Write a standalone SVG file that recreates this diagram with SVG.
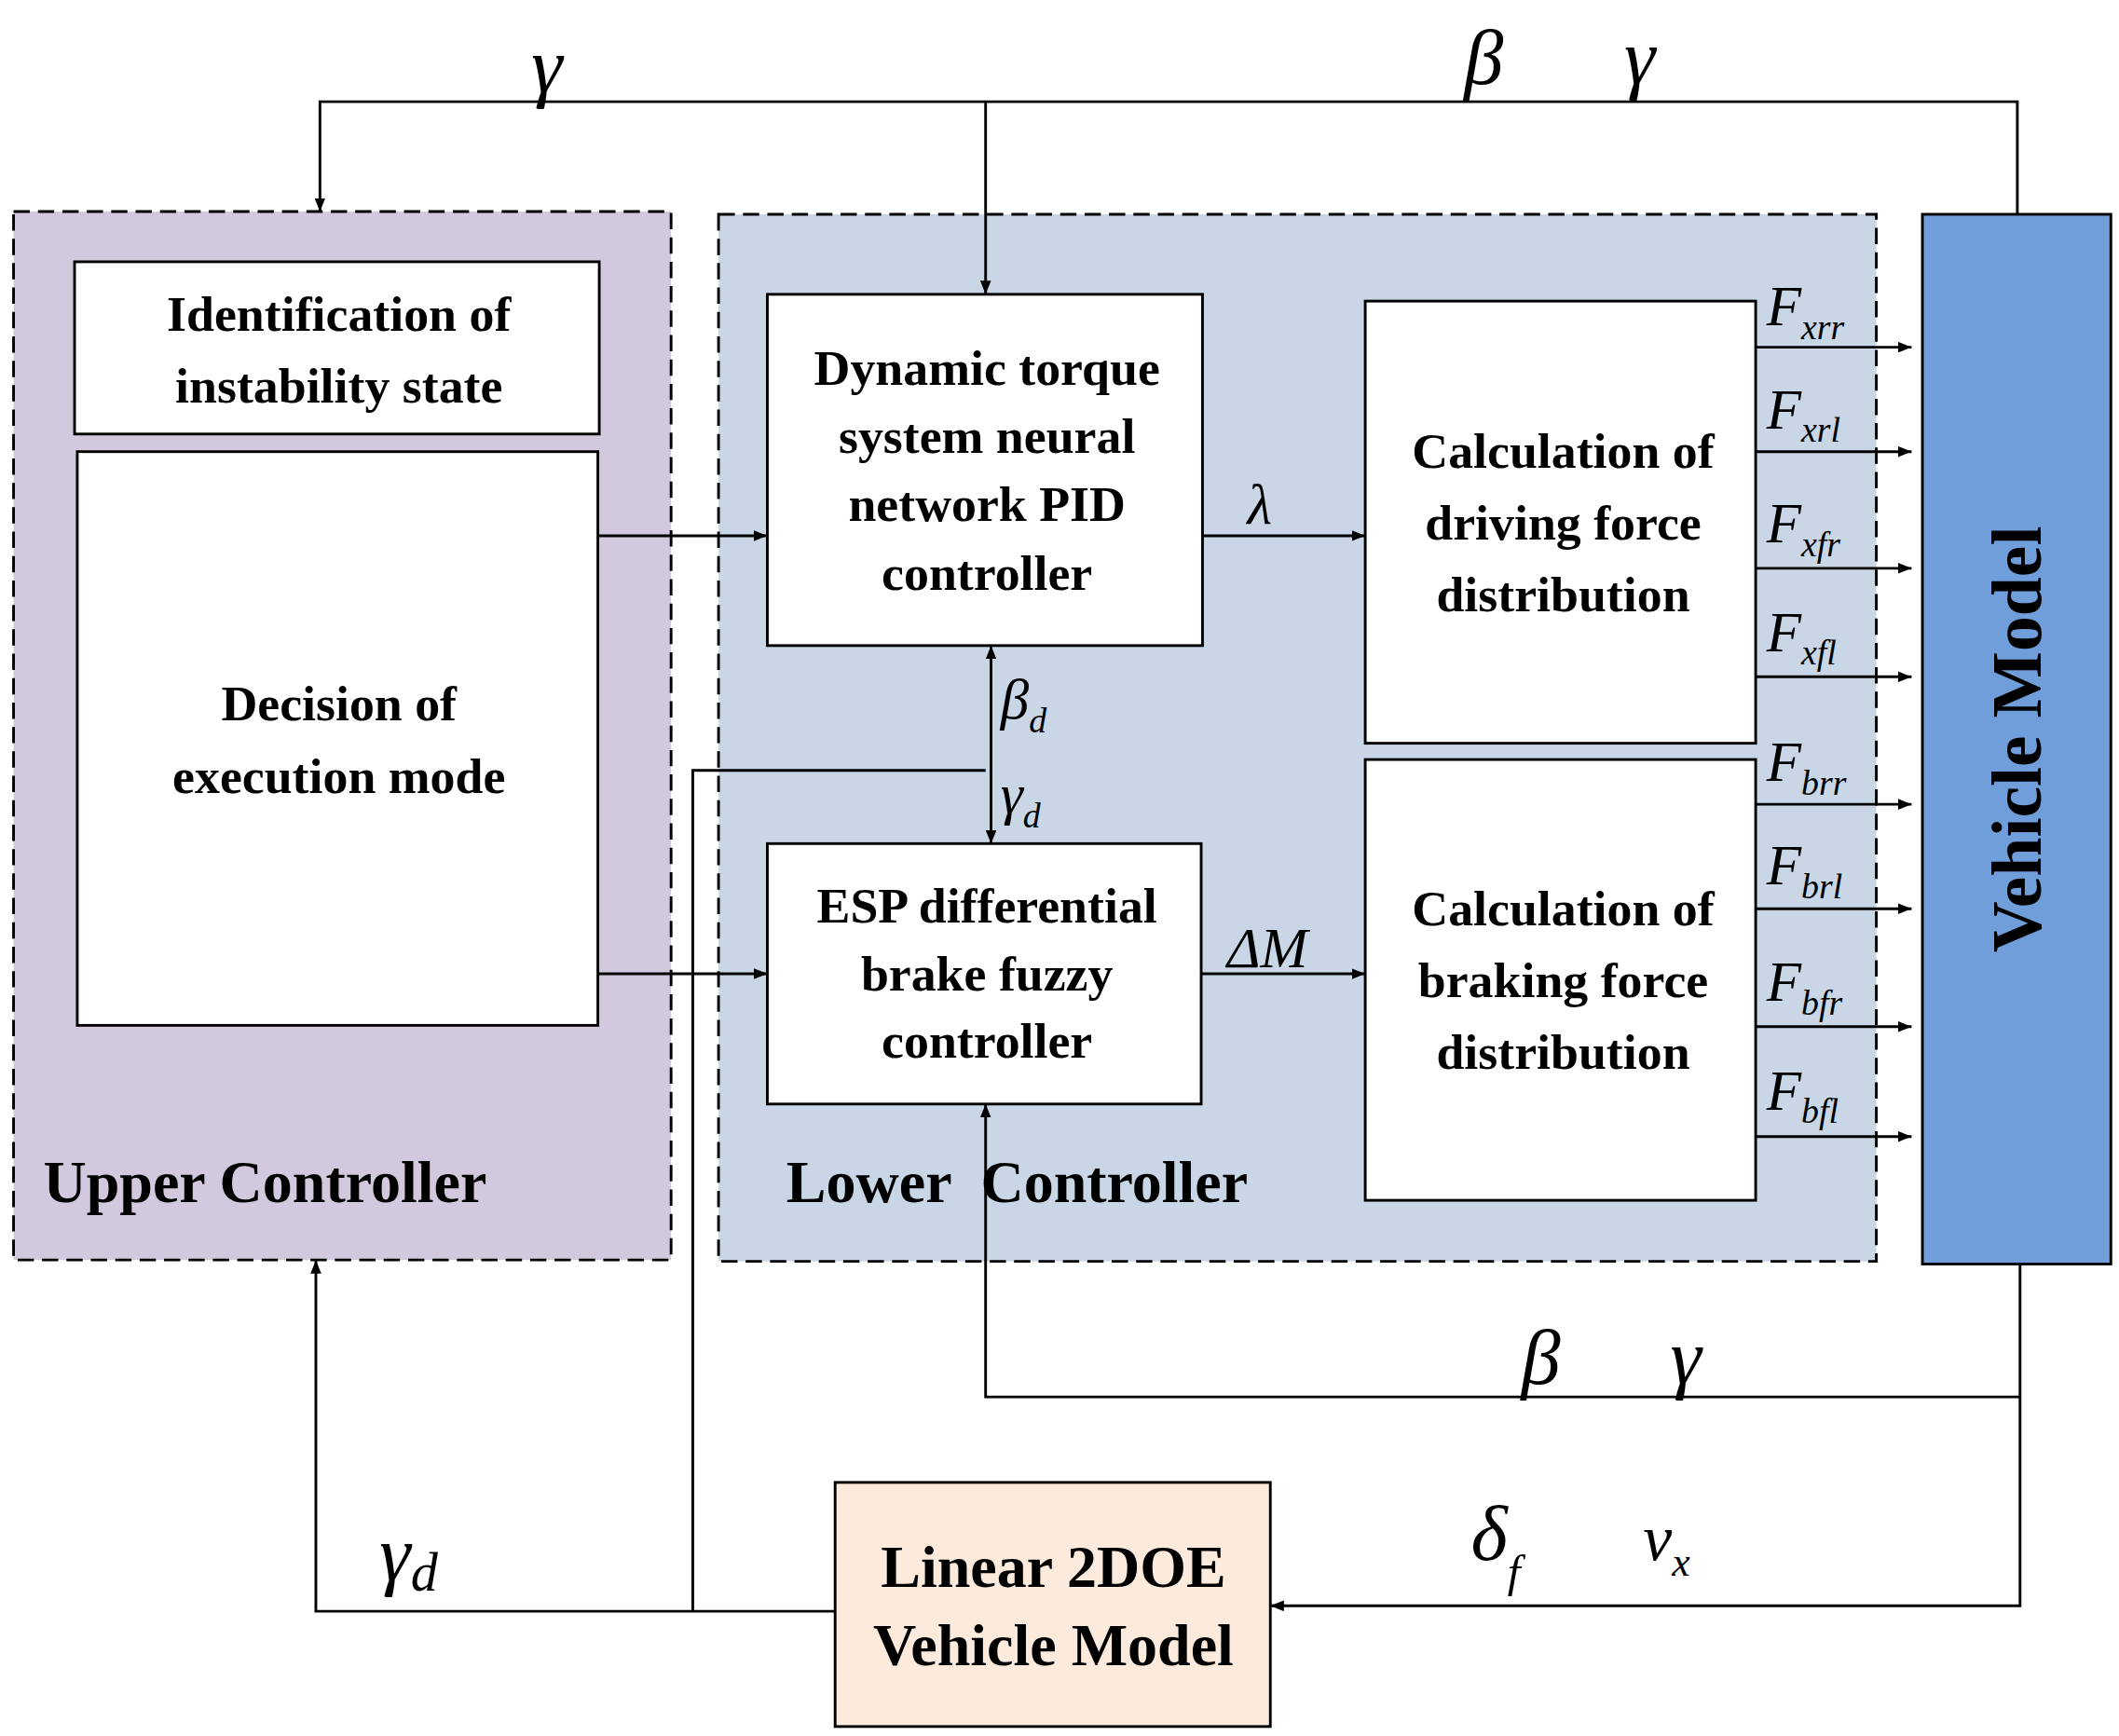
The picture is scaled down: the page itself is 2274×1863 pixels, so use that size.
<svg xmlns="http://www.w3.org/2000/svg" width="2274" height="1863" viewBox="0 0 2274 1863">
<style>
.b{fill:#fff;stroke:#000;stroke-width:2}
.t{font-family:"Liberation Serif",serif;font-weight:bold;font-size:37px;text-anchor:middle}
.i{font-family:"Liberation Serif",serif;font-style:italic}
.c{fill:none;stroke:#000;stroke-width:2}
</style>
<defs><marker id="a" markerWidth="10" markerHeight="8" refX="10" refY="4" orient="auto" markerUnits="userSpaceOnUse"><path d="M0,0 L10,4 L0,8 z" fill="#000"/></marker>
<marker id="s" markerWidth="10" markerHeight="8" refX="0" refY="4" orient="auto" markerUnits="userSpaceOnUse"><path d="M10,0 L0,4 L10,8 z" fill="#000"/></marker></defs>
<rect width="2274" height="1863" fill="#fff"/>
<g transform="scale(1.4549,1.4555)">
<g id="upper"><rect x="10" y="156" width="485" height="773" fill="#d2c9de" stroke="#000" stroke-width="2" stroke-dasharray="12,6"/><text x="32" y="886" class="t" style="text-anchor:start;font-size:44px">Upper Controller</text></g>
<g id="lower"><rect x="530" y="158" width="854" height="772" fill="#c8d6e6" stroke="#000" stroke-width="2" stroke-dasharray="12,6"/><text x="580" y="886" class="t" style="text-anchor:start;font-size:44px" xml:space="preserve">Lower  Controller</text></g>
<g id="vehicle"><rect x="1418" y="158" width="139" height="774" fill="#6f9edb" stroke="#000" stroke-width="2"/><text transform="translate(1505,545) rotate(-90)" class="t" style="font-size:52px">Vehicle Model</text></g>
<g id="ident"><rect x="55" y="193" width="387" height="127" class="b"/><text class="t" x="250" y="244">Identification of</text><text class="t" x="250" y="297">instability state</text></g>
<g id="decision"><rect x="57" y="333" width="384" height="423" class="b"/><text class="t" x="250" y="531">Decision of</text><text class="t" x="250" y="585">execution mode</text></g>
<g id="dyn"><rect x="566" y="217" width="321" height="259" class="b"/><text class="t" x="728" y="284">Dynamic torque</text><text class="t" x="728" y="334">system neural</text><text class="t" x="728" y="384">network PID</text><text class="t" x="728" y="435">controller</text></g>
<g id="esp"><rect x="566" y="622" width="320" height="192" class="b"/><text class="t" x="728" y="680">ESP differential</text><text class="t" x="728" y="730">brake fuzzy</text><text class="t" x="728" y="780">controller</text></g>
<g id="drive"><rect x="1007" y="222" width="288" height="326" class="b"/><text class="t" x="1153" y="345">Calculation of</text><text class="t" x="1153" y="398">driving force</text><text class="t" x="1153" y="451">distribution</text></g>
<g id="brake"><rect x="1007" y="560" width="288" height="325" class="b"/><text class="t" x="1153" y="682">Calculation of</text><text class="t" x="1153" y="735">braking force</text><text class="t" x="1153" y="788">distribution</text></g>
<g id="linear"><rect x="616" y="1093" width="321" height="180" fill="#fcebdd" stroke="#000" stroke-width="2"/><text class="t" x="777" y="1170" style="font-size:44px">Linear 2DOE</text><text class="t" x="777" y="1228" style="font-size:44px">Vehicle Model</text></g>
<g id="connectors">
<path class="c" d="M1488,158 V75 H236 V156" marker-end="url(#a)"/>
<path class="c" d="M727,75 V217" marker-end="url(#a)"/>
<path class="c" d="M442,395 H566" marker-end="url(#a)"/>
<path class="c" d="M887,395 H1007" marker-end="url(#a)"/>
<path class="c" d="M441,718 H566" marker-end="url(#a)"/>
<path class="c" d="M886,718 H1007" marker-end="url(#a)"/>
<path class="c" d="M731,476 V622" marker-start="url(#s)" marker-end="url(#a)"/>
<path class="c" d="M727,568 H511 V1188"/>
<path class="c" d="M616,1188 H233 V929" marker-end="url(#a)"/>
<path class="c" d="M1490,932 V1184 H937" marker-end="url(#a)"/>
<path class="c" d="M1490,1030 H727 V814" marker-end="url(#a)"/>
<path class="c" d="M1295,256 H1410" marker-end="url(#a)"/>
<path class="c" d="M1295,333 H1410" marker-end="url(#a)"/>
<path class="c" d="M1295,419 H1410" marker-end="url(#a)"/>
<path class="c" d="M1295,499 H1410" marker-end="url(#a)"/>
<path class="c" d="M1295,593 H1410" marker-end="url(#a)"/>
<path class="c" d="M1295,670 H1410" marker-end="url(#a)"/>
<path class="c" d="M1295,757 H1410" marker-end="url(#a)"/>
<path class="c" d="M1295,838 H1410" marker-end="url(#a)"/>
</g>
<g class="i" font-size="58">
<text x="392" y="68">γ</text><text x="1080" y="62">β</text><text x="1198" y="62">γ</text>
<text x="1122" y="1020">β</text><text x="1232" y="1020">γ</text>
<text x="280" y="1165">γ<tspan font-size="40" dy="8">d</tspan></text>
<text x="1085" y="1150">δ<tspan font-size="34" dy="20">f</tspan></text>
<text x="1212" y="1150" font-size="48">v<tspan font-size="30" dy="12">x</tspan></text>
</g>
<g class="i" font-size="42">
<text x="920" y="386">λ</text><text x="905" y="713">ΔM</text>
<text x="738" y="530">β<tspan font-size="26" dy="10">d</tspan></text>
<text x="738" y="600">γ<tspan font-size="26" dy="10">d</tspan></text>
<text x="1303" y="240">F<tspan font-size="26" dy="10">xrr</tspan></text>
<text x="1303" y="316">F<tspan font-size="26" dy="10">xrl</tspan></text>
<text x="1303" y="400">F<tspan font-size="26" dy="10">xfr</tspan></text>
<text x="1303" y="480">F<tspan font-size="26" dy="10">xfl</tspan></text>
<text x="1303" y="576">F<tspan font-size="26" dy="10">brr</tspan></text>
<text x="1303" y="652">F<tspan font-size="26" dy="10">brl</tspan></text>
<text x="1303" y="738">F<tspan font-size="26" dy="10">bfr</tspan></text>
<text x="1303" y="818">F<tspan font-size="26" dy="10">bfl</tspan></text>
</g>
</g>
</svg>
